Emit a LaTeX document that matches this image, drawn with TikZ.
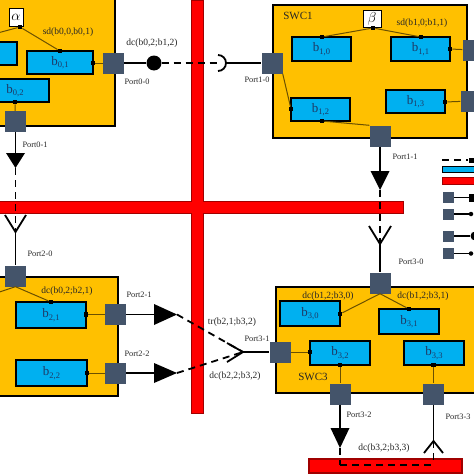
\documentclass[tikz,border=0pt]{standalone}
\usepackage{fontspec}
\setmainfont{Liberation Serif}
\definecolor{swc}{HTML}{FFC000}
\definecolor{bblue}{HTML}{00B0F0}
\definecolor{busred}{HTML}{FF0000}
\definecolor{busedge}{HTML}{A00000}
\definecolor{portc}{HTML}{44546A}
\definecolor{innerc}{HTML}{6B5000}
\definecolor{navy}{HTML}{1F3864}
\newcommand\bl[1]{b\raisebox{-2.5pt}{\fontsize{8.5}{9}\selectfont #1}}
\tikzset{
 swcbox/.style={draw=black, fill=swc, line width=1.6pt, inner sep=0pt},
 bbox/.style={draw=black, fill=bblue, line width=1.3pt, inner sep=0pt, text=navy, font=\fontsize{13}{13}\selectfont},
 portsq/.style={fill=portc, minimum size=21pt, inner sep=0pt},
 sq/.style={fill=black, minimum size=4.5pt, inner sep=0pt},
 greekbox/.style={draw=black, fill=white, line width=1pt, inner sep=0pt, font=\fontsize{15}{15}\selectfont},
 inline/.style={draw=innerc, line width=1pt},
 wire/.style={draw=black, line width=1.8pt},
 dwire/.style={draw=black, line width=1.8pt, dash pattern=on 7pt off 5pt},
 lbl/.style={font=\fontsize{9.5}{10}\selectfont, text=black!85, inner sep=0pt},
 plbl/.style={font=\fontsize{8.3}{9}\selectfont, text=black!85, inner sep=0pt},
 swclbl/.style={font=\fontsize{11}{12}\selectfont, text=black!85, inner sep=0pt},
 dotc/.style={circle, fill=black, inner sep=0pt}
}
\begin{document}
\begin{tikzpicture}[x=1pt,y=-1pt]
\useasboundingbox (0,0) rectangle (474,474);
\clip (0,0) rectangle (474,474);
% buses
\draw[busedge, line width=1.2pt] (-10,202) rectangle (403,213);
\draw[busedge, line width=1.2pt] (192,1) rectangle (203,413);
\fill[busred] (-10,202) rectangle (403,213);
\fill[busred] (192,1) rectangle (203,413);
\node[draw=busedge, fill=busred, line width=1.2pt, minimum width=153pt, minimum height=14pt, inner sep=0pt] (bus3) at (385.5,466) {};
% SWC boxes
\node[swcbox, minimum width=175pt, minimum height=130pt] (swc0) at (27.5,61) {};
\node[swcbox, minimum width=194pt, minimum height=133pt] (swc1) at (370,71.5) {};
\node[swcbox, minimum width=178pt, minimum height=119pt] (swc2) at (29,336.5) {};
\node[swcbox, minimum width=214pt, minimum height=106pt] (swc3) at (383,340) {};
% blue boxes
\node[bbox, minimum width=66pt, minimum height=23pt] (b00) at (-16,53.5) {};
\node[bbox, minimum width=66pt, minimum height=23pt] (b01) at (60,62.5) {\bl{0,1}};
\node[bbox, minimum width=68pt, minimum height=23pt] (b02) at (15,90.5) {\bl{0,2}};
\node[bbox, minimum width=59pt, minimum height=24pt] (b10) at (321.5,49) {\bl{1,0}};
\node[bbox, minimum width=59pt, minimum height=24pt] (b11) at (420.5,49) {\bl{1,1}};
\node[bbox, minimum width=59pt, minimum height=23pt] (b12) at (320.5,109.5) {\bl{1,2}};
\node[bbox, minimum width=59pt, minimum height=23pt] (b13) at (415.5,101.5) {\bl{1,3}};
\node[bbox, minimum width=70pt, minimum height=26pt] (b21) at (51,315) {\bl{2,1}};
\node[bbox, minimum width=71pt, minimum height=26pt] (b22) at (51.5,373) {\bl{2,2}};
\node[bbox, minimum width=60pt, minimum height=25pt] (b30) at (310,313.5) {\bl{3,0}};
\node[bbox, minimum width=60pt, minimum height=25pt] (b31) at (409,321.5) {\bl{3,1}};
\node[bbox, minimum width=60pt, minimum height=24pt] (b32) at (340,353) {\bl{3,2}};
\node[bbox, minimum width=60pt, minimum height=24pt] (b33) at (434,353) {\bl{3,3}};
% greek boxes
\node[greekbox, minimum width=14pt, minimum height=18pt] (alpha) at (16,17) {$\alpha$};
\node[greekbox, minimum width=18pt, minimum height=17pt] (beta) at (372,18.5) {$\beta$};
% small squares
\node[sq] (s0a) at (20,27) {};
\node[sq] (s00t) at (-36,42) {};
\node[sq] (s01t) at (60,51) {};
\node[sq] (s01r) at (93,63) {};
\node[sq] (s02b) at (15,102) {};
\node[sq] (s1b) at (373,28) {};
\node[sq] (s10t) at (322,37) {};
\node[sq] (s11t) at (421,37) {};
\node[sq] (s11r) at (450,49) {};
\node[sq] (s12l) at (291,109) {};
\node[sq] (s12b) at (322,121) {};
\node[sq] (s13r) at (445,102) {};
\node[sq] (s21t) at (51,302) {};
\node[sq] (s21r) at (86,314.5) {};
\node[sq] (s22r) at (87,373) {};
\node[sq] (s30r) at (340,314) {};
\node[sq] (s31t) at (409,309) {};
\node[sq] (s32l) at (310,352) {};
\node[sq] (s32b) at (340,365) {};
\node[sq] (s33b) at (433.5,365) {};
\coordinate (b20t) at (-40,305);
% ports
\node[portsq] (P00) at (113.5,63) {};
\node[portsq] (P01) at (15.5,121.5) {};
\node[portsq] (P10) at (272,63) {};
\node[portsq] (P11) at (380,136) {};
\node[portsq] (P12) at (473,50) {};
\node[portsq] (P13) at (471,101) {};
\node[portsq] (P20) at (15.5,276) {};
\node[portsq] (P21) at (115.5,314.5) {};
\node[portsq] (P22) at (115.5,373) {};
\node[portsq] (P30) at (380,283) {};
\node[portsq] (P31) at (280,352) {};
\node[portsq] (P32) at (340,394) {};
\node[portsq] (P33) at (433.5,394) {};
% inner connectors
\draw[inline] (s0a) -- (s00t);
\draw[inline] (s0a) -- (s01t);
\draw[inline] (s01r) -- (P00);
\draw[inline] (s02b) -- (P01);
\draw[inline] (s1b) -- (s10t);
\draw[inline] (s1b) -- (s11t);
\draw[inline] (s11r) -- (P12);
\draw[inline] (s13r) -- (P13);
\draw[inline] (P10.south east) -- (s12l);
\draw[inline] (s12b) -- (P11.north west);
\draw[inline] (P20.south) -- (b20t);
\draw[inline] (P20.south) -- (s21t);
\draw[inline] (s21r) -- (P21);
\draw[inline] (s22r) -- (P22);
\draw[inline] (P30.south) -- (s30r);
\draw[inline] (P30.south) -- (s31t);
\draw[inline] (P31) -- (s32l);
\draw[inline] (s32b) -- (P32);
\draw[inline] (s33b) -- (P33);
% ball and socket
\node[dotc, minimum size=15pt] (ball) at (154,63) {};
\coordinate (sock) at (218,63);
\coordinate (sockR) at (226,63);
\draw[wire] (P00) -- (ball);
\draw[dwire] (ball) -- (sock);
\draw[wire] (sock) ++(0,-8) arc[start angle=-90, end angle=90, radius=8];
\draw[wire] (sockR) -- (P10);
% port0-1 -> port2-0
\coordinate (t01b) at (15.5,153);
\coordinate (t01t) at (15.5,168);
\coordinate (v20) at (15.5,232);
\draw[wire] (P01) -- (t01b);
\fill (6,153) -- (25,153) -- (t01t) -- cycle;
\draw[dwire] (t01t) -- (v20);
\draw[wire] (5,215) -- (v20) -- (26,215);
\draw[wire] (v20) -- (P20);
% port1-1 -> port3-0
\coordinate (t11b) at (380,171);
\coordinate (t11t) at (380,190);
\coordinate (v30) at (380,244);
\draw[wire] (P11) -- (t11b);
\fill (370.5,171) -- (389.5,171) -- (t11t) -- cycle;
\draw[dwire] (t11t) -- (v30);
\draw[wire] (369,226) -- (v30) -- (391,226);
\draw[wire] (v30) -- (P30);
% port2-1, port2-2 -> port3-1
\coordinate (t21b) at (154,314.5);
\coordinate (t21t) at (177,314.5);
\coordinate (t22b) at (154,373);
\coordinate (t22t) at (177,373);
\coordinate (v31) at (243,352);
\draw[wire] (P21) -- (t21b);
\fill (154,304) -- (154,325) -- (t21t) -- cycle;
\draw[wire] (P22) -- (t22b);
\fill (154,363) -- (154,383) -- (t22t) -- cycle;
\draw[dwire] (t21t) -- (v31);
\draw[dwire] (t22t) -- (v31);
\draw[wire] (227,343) -- (v31) -- (227,362);
\draw[wire] (v31) -- (P31);
% port3-2, port3-3 -> bus
\coordinate (t32b) at (340,428);
\coordinate (t32t) at (340,448);
\coordinate (v33) at (433.5,441);
\coordinate (bus32) at (340,465);
\coordinate (bus33) at (433.5,465);
\draw[wire] (P32) -- (t32b);
\fill (330.5,428) -- (349.5,428) -- (t32t) -- cycle;
\draw[dwire] (t32t) -- (bus32);
\draw[dwire] (bus32) -- (bus33);
\draw[wire] (P33) -- (v33);
\draw[wire] (424,453) -- (v33) -- (443,453);
\draw[dwire] (v33) -- (bus33);
% legend
\coordinate (lg0) at (442,160);
\node[sq, minimum size=5pt] (lg0e) at (471,160) {};
\draw[dwire, line width=1.5pt] (lg0) -- (lg0e);
\node[draw=black, fill=bblue, line width=1pt, minimum width=40pt, minimum height=5.5pt, inner sep=0pt] (legblue) at (462,169.5) {};
\node[draw=busedge, fill=busred, line width=1pt, minimum width=40pt, minimum height=6.5pt, inner sep=0pt] (legred) at (462,181) {};
\node[portsq, minimum size=11pt] (lp1) at (448.5,197.5) {};
\node[fill=black, minimum size=8pt, inner sep=0pt] (le1) at (473,197.5) {};
\draw[wire, line width=1.3pt] (lp1) -- (le1);
\node[portsq, minimum size=11pt] (lp2) at (448.5,214) {};
\node[dotc, minimum size=4.5pt] (le2) at (471,214) {};
\draw[wire, line width=1.3pt] (lp2) -- (le2);
\node[portsq, minimum size=11pt] (lp3) at (448.5,236) {};
\node[dotc, minimum size=9pt] (le3) at (475,236) {};
\draw[wire, line width=1.3pt] (lp3) -- (le3);
\node[portsq, minimum size=11pt] (lp4) at (448.5,253.5) {};
\node[dotc, minimum size=4.5pt] (le4) at (471,253.5) {};
\draw[wire, line width=1.3pt] (lp4) -- (le4);
% labels
\node[lbl] (L1) at (68,32) {sd(b0,0,b0,1)};
\node[lbl] (L2) at (152,43) {dc(b0,2;b1,2)};
\node[plbl] (L3) at (137,82) {Port0-0};
\node[plbl] (L4) at (35,145) {Port0-1};
\node[swclbl] (L5) at (298,16) {SWC1};
\node[lbl] (L6) at (422,23) {sd(b1,0;b1,1)};
\node[plbl] (L7) at (257,80) {Port1-0};
\node[plbl] (L8) at (405,157) {Port1-1};
\node[plbl] (L9) at (40,254) {Port2-0};
\node[lbl] (L10) at (67,291) {dc(b0,2;b2,1)};
\node[plbl] (L11) at (139,295) {Port2-1};
\node[plbl] (L12) at (137,354) {Port2-2};
\node[lbl] (L13) at (232,322) {tr(b2,1;b3,2)};
\node[lbl] (L14) at (235,376) {dc(b2,2;b3,2)};
\node[plbl] (L15) at (257,339) {Port3-1};
\node[plbl] (L16) at (411,262) {Port3-0};
\node[lbl] (L17) at (328,296) {dc(b1,2;b3,0)};
\node[lbl] (L18) at (423,296) {dc(b1,2;b3,1)};
\node[swclbl] (L19) at (313,377) {SWC3};
\node[plbl] (L20) at (359,415) {Port3-2};
\node[plbl] (L21) at (458,417) {Port3-3};
\node[lbl] (L22) at (384,448) {dc(b3,2;b3,3)};
\end{tikzpicture}
\end{document}
